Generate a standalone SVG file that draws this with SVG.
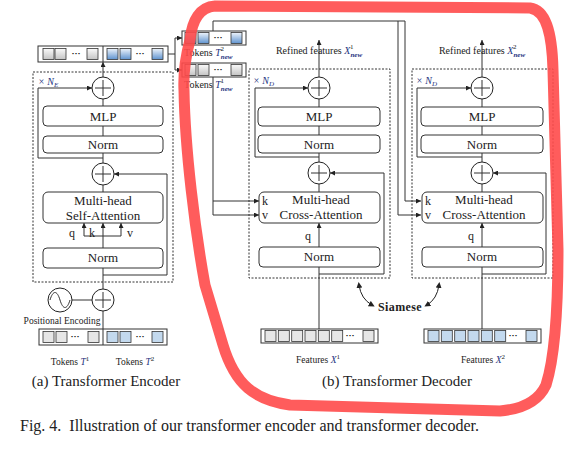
<svg xmlns="http://www.w3.org/2000/svg" width="566" height="449" viewBox="0 0 566 449">
<defs>
<marker id="ah" markerWidth="5" markerHeight="5" refX="5" refY="2.5" orient="auto" markerUnits="userSpaceOnUse"><path d="M0,0 L5,2.5 L0,5 z" fill="#222"/></marker>
<marker id="ahs" markerWidth="6" markerHeight="6" refX="3" refY="3" orient="auto-start-reverse" markerUnits="userSpaceOnUse"><path d="M0,0 L6,3 L0,6 z" fill="#222"/></marker>
<linearGradient id="gb" x1="0" y1="0" x2="0" y2="1"><stop offset="0" stop-color="#eef4fb"/><stop offset="1" stop-color="#5f93cf"/></linearGradient>
<linearGradient id="gg" x1="0" y1="0" x2="0" y2="1"><stop offset="0" stop-color="#fafafa"/><stop offset="1" stop-color="#c4c4c4"/></linearGradient>
<style>
text{font-family:"Liberation Serif","Times New Roman",serif;fill:#222}
.t13{font-size:13px;text-anchor:middle}
.sm{font-size:9.5px}
.m{font-style:italic;fill:#1d3380}
.dots{font-size:9px;text-anchor:middle;font-weight:bold}
.blk{fill:#fff;stroke:#333;stroke-width:1}
.dash{fill:none;stroke:#333;stroke-width:1;stroke-dasharray:2,1.5}
.ln{fill:none;stroke:#333;stroke-width:1}
.ar{fill:none;stroke:#333;stroke-width:1;marker-end:url(#ah)}
.bar{fill:#fff;stroke:#333;stroke-width:1}
.cg{fill:#e6e6e6;stroke:#333;stroke-width:0.8}
.cb{fill:#c3d9ee;stroke:#333;stroke-width:0.8}
.tg{fill:url(#gg);stroke:#333;stroke-width:0.8}
.tb{fill:url(#gb);stroke:#333;stroke-width:0.8}
.pc{fill:#fff;stroke:#222;stroke-width:1}
</style>
</defs>
<rect width="566" height="449" fill="#fff"/>

<g id="connectors">
<line class="ln" x1="103" y1="329" x2="103" y2="311"/>
<line class="ln" x1="72" y1="300" x2="92" y2="300"/>
<line class="ln" x1="103" y1="289" x2="103" y2="268"/>
<line class="ln" x1="103" y1="248" x2="103" y2="236"/>
<line class="ln" x1="84" y1="236" x2="121" y2="236"/>
<line class="ar" x1="84" y1="236" x2="84" y2="223"/>
<line class="ar" x1="103" y1="236" x2="103" y2="223"/>
<line class="ar" x1="121" y1="236" x2="121" y2="223"/>
<polyline class="ar" points="103,275 167,275 167,174 114,174"/>
<line class="ln" x1="103" y1="192" x2="103" y2="185"/>
<line class="ln" x1="103" y1="163" x2="103" y2="153"/>
<line class="ln" x1="103" y1="136" x2="103" y2="126"/>
<line class="ln" x1="103" y1="106" x2="103" y2="99"/>
<polyline class="ar" points="103,158 38,158 38,88 92,88"/>
<line class="ar" x1="103" y1="77" x2="103" y2="62"/>
<polyline class="ln" points="168,54 175,54"/>
<polyline class="ln" points="175,38 175,70"/>
<line class="ar" x1="175" y1="38" x2="182" y2="38"/>
<line class="ar" x1="175" y1="70" x2="182" y2="70"/>
<polyline class="ln" points="213,31 213,21 405,21"/>
<polyline class="ar" points="405,21 405,201 421,201"/>
<polyline class="ar" points="398,21 398,215 421,215"/>
<line class="ln" x1="213" y1="77" x2="213" y2="215"/>
<line class="ar" x1="213" y1="201" x2="259" y2="201"/>
<line class="ar" x1="213" y1="215" x2="259" y2="215"/>
<line class="ln" x1="319" y1="329" x2="319" y2="267"/>
<line class="ar" x1="319" y1="247" x2="319" y2="223"/>
<polyline class="ar" points="319,274 384,274 384,173 330,173"/>
<line class="ln" x1="319" y1="192" x2="319" y2="184"/>
<line class="ln" x1="319" y1="162" x2="319" y2="153"/>
<line class="ln" x1="319" y1="135" x2="319" y2="126"/>
<line class="ln" x1="319" y1="107" x2="319" y2="99"/>
<polyline class="ar" points="319,157 255,157 255,88 308,88"/>
<line class="ar" x1="319" y1="77" x2="319" y2="40"/>
<line class="ln" x1="482" y1="329" x2="482" y2="267"/>
<line class="ar" x1="482" y1="247" x2="482" y2="223"/>
<polyline class="ar" points="482,274 546,274 546,173 493,173"/>
<line class="ln" x1="482" y1="192" x2="482" y2="184"/>
<line class="ln" x1="482" y1="162" x2="482" y2="153"/>
<line class="ln" x1="482" y1="135" x2="482" y2="126"/>
<line class="ln" x1="482" y1="107" x2="482" y2="99"/>
<polyline class="ar" points="482,157 417,157 417,88 471,88"/>
<line class="ar" x1="482" y1="77" x2="482" y2="40"/>
<path d="M359,285 Q361,299 372,305" fill="none" stroke="#222" stroke-width="1" marker-start="url(#ahs)" marker-end="url(#ahs)"/>
<path d="M439,285 Q437,299 427,305" fill="none" stroke="#222" stroke-width="1" marker-start="url(#ahs)" marker-end="url(#ahs)"/>
</g>

<g id="encoder">
<rect class="dash" x="33" y="72" width="140" height="210"/>
<text x="38" y="85" style="font-size:10px" class="m">× N<tspan style="font-size:7px" dy="2">E</tspan></text>
<circle class="pc" cx="103" cy="88" r="11"/>
<path class="ln" d="M95,88 H111 M103,80 V96"/>
<rect class="blk" x="43" y="106" width="120" height="20" rx="4"/>
<text class="t13" x="103" y="121">MLP</text>
<rect class="blk" x="43" y="136" width="120" height="17" rx="4"/>
<text class="t13" x="103" y="149">Norm</text>
<circle class="pc" cx="103" cy="174" r="11"/>
<path class="ln" d="M95,174 H111 M103,166 V182"/>
<rect class="blk" x="43" y="192" width="120" height="31" rx="5"/>
<text class="t13" x="103" y="205">Multi-head</text>
<text class="t13" x="103" y="220">Self-Attention</text>
<text x="72" y="237" style="font-size:12px;text-anchor:middle">q</text>
<text x="92" y="237" style="font-size:12px;text-anchor:middle">k</text>
<text x="130" y="237" style="font-size:12px;text-anchor:middle">v</text>
<rect class="blk" x="43" y="248" width="120" height="20" rx="4"/>
<text class="t13" x="103" y="262">Norm</text>
</g>

<g id="pos-encoding">
<circle class="pc" cx="60" cy="300" r="12"/>
<path class="ln" d="M50,300 C53,290 57,290 60,300 C63,310 67,310 70,300"/>
<circle class="pc" cx="103" cy="300" r="11"/>
<path class="ln" d="M95,300 H111 M103,292 V308"/>
<text x="62" y="324" style="font-size:9.5px;text-anchor:middle">Positional Encoding</text>
</g>

<g id="tokens-in">
<rect class="bar" x="39" y="329" width="128" height="16"/>
<line class="ln" x1="103" y1="329" x2="103" y2="345"/>
<rect class="cg" x="43" y="331.5" width="11" height="11"/>
<rect class="cg" x="56" y="331.5" width="11" height="11"/>
<text x="75" y="339" class="dots">···</text>
<rect class="cg" x="88" y="331.5" width="11" height="11"/>
<rect class="cb" x="107" y="331.5" width="11" height="11"/>
<rect class="cb" x="120" y="331.5" width="11" height="11"/>
<text x="140" y="339" class="dots">···</text>
<rect class="cb" x="152" y="331.5" width="11" height="11"/>
<text x="70" y="365" class="sm" style="text-anchor:middle">Tokens <tspan class="m">T</tspan><tspan style="font-size:7px" dy="-4">1</tspan></text>
<text x="135" y="365" class="sm" style="text-anchor:middle">Tokens <tspan class="m">T</tspan><tspan style="font-size:7px" dy="-4">2</tspan></text>
</g>

<g id="tokens-out">
<rect class="bar" x="38" y="46" width="130" height="16"/>
<line class="ln" x1="103" y1="46" x2="103" y2="62"/>
<rect class="tg" x="43" y="48.5" width="11" height="11"/>
<rect class="tg" x="55" y="48.5" width="11" height="11"/>
<text x="76" y="56" class="dots">···</text>
<rect class="tg" x="87" y="48.5" width="11" height="11"/>
<rect class="tb" x="107" y="48.5" width="11" height="11"/>
<rect class="tb" x="120" y="48.5" width="11" height="11"/>
<text x="140" y="56" class="dots">···</text>
<rect class="tb" x="152" y="48.5" width="11" height="11"/>
</g>

<g id="tokens-t2new">
<rect class="bar" x="182" y="31" width="64" height="14"/>
<rect class="tb" x="185" y="32.5" width="11" height="11"/>
<rect class="tb" x="198" y="32.5" width="11" height="11"/>
<text x="218" y="40" class="dots">···</text>
<rect class="tb" x="231" y="32.5" width="11" height="11"/>
<text x="184" y="56" style="font-size:10px">Tokens <tspan class="m">T</tspan><tspan class="m" style="font-size:7px;font-weight:bold" dy="3">new</tspan><tspan style="font-size:7px" dx="-12" dy="-8">2</tspan></text>
</g>

<g id="tokens-t1new">
<rect class="bar" x="182" y="63" width="64" height="14"/>
<rect class="tg" x="185" y="64.5" width="11" height="11"/>
<rect class="tg" x="198" y="64.5" width="11" height="11"/>
<text x="218" y="72" class="dots">···</text>
<rect class="tg" x="231" y="64.5" width="11" height="11"/>
<text x="184" y="88" style="font-size:10px">Tokens <tspan class="m">T</tspan><tspan class="m" style="font-size:7px;font-weight:bold" dy="3">new</tspan><tspan style="font-size:7px" dx="-12" dy="-8">1</tspan></text>
</g>

<g id="decoder1">
<text x="319" y="54" style="font-size:10px;text-anchor:middle">Refined features <tspan class="m">X</tspan><tspan class="m" style="font-size:7px;font-weight:bold" dy="3">new</tspan><tspan style="font-size:7px" dx="-12" dy="-8">1</tspan></text>
<rect class="dash" x="249" y="69" width="141" height="209"/>
<text x="253" y="84" style="font-size:10px" class="m">× N<tspan style="font-size:7px" dy="2">D</tspan></text>
<circle class="pc" cx="319" cy="88" r="11"/>
<path class="ln" d="M311,88 H327 M319,80 V96"/>
<rect class="blk" x="258" y="107" width="122" height="19" rx="4"/>
<text class="t13" x="319" y="121">MLP</text>
<rect class="blk" x="258" y="135" width="122" height="18" rx="4"/>
<text class="t13" x="319" y="149">Norm</text>
<circle class="pc" cx="319" cy="173" r="11"/>
<path class="ln" d="M311,173 H327 M319,165 V181"/>
<rect class="blk" x="259" y="192" width="121" height="31" rx="5"/>
<text x="262" y="205" style="font-size:12px">k</text>
<text x="262" y="219" style="font-size:12px">v</text>
<text class="t13" x="321" y="204">Multi-head</text>
<text class="t13" x="321" y="219">Cross-Attention</text>
<text x="308" y="240" style="font-size:12px;text-anchor:middle">q</text>
<rect class="blk" x="259" y="247" width="121" height="20" rx="4"/>
<text class="t13" x="319" y="261">Norm</text>
<rect class="bar" x="261" y="329" width="117" height="14"/>
<rect class="cg" x="265" y="330.5" width="11" height="11"/>
<rect class="cg" x="278.3" y="330.5" width="11" height="11"/>
<rect class="cg" x="291.7" y="330.5" width="11" height="11"/>
<rect class="cg" x="305" y="330.5" width="11" height="11"/>
<rect class="cg" x="318.3" y="330.5" width="11" height="11"/>
<rect class="cg" x="331.7" y="330.5" width="11" height="11"/>
<text x="350" y="338" class="dots">···</text>
<rect class="cg" x="363" y="330.5" width="11" height="11"/>
<text x="318" y="363" class="sm" style="text-anchor:middle">Features <tspan class="m">X</tspan><tspan style="font-size:7px" dy="-4">1</tspan></text>
</g>

<g id="decoder2">
<text x="482" y="54" style="font-size:10px;text-anchor:middle">Refined features <tspan class="m">X</tspan><tspan class="m" style="font-size:7px;font-weight:bold" dy="3">new</tspan><tspan style="font-size:7px" dx="-12" dy="-8">2</tspan></text>
<rect class="dash" x="412" y="69" width="141" height="209"/>
<text x="416" y="84" style="font-size:10px" class="m">× N<tspan style="font-size:7px" dy="2">D</tspan></text>
<circle class="pc" cx="482" cy="88" r="11"/>
<path class="ln" d="M474,88 H490 M482,80 V96"/>
<rect class="blk" x="421" y="107" width="122" height="19" rx="4"/>
<text class="t13" x="482" y="121">MLP</text>
<rect class="blk" x="421" y="135" width="122" height="18" rx="4"/>
<text class="t13" x="482" y="149">Norm</text>
<circle class="pc" cx="482" cy="173" r="11"/>
<path class="ln" d="M474,173 H490 M482,165 V181"/>
<rect class="blk" x="422" y="192" width="121" height="31" rx="5"/>
<text x="425" y="205" style="font-size:12px">k</text>
<text x="425" y="219" style="font-size:12px">v</text>
<text class="t13" x="484" y="204">Multi-head</text>
<text class="t13" x="484" y="219">Cross-Attention</text>
<text x="471" y="240" style="font-size:12px;text-anchor:middle">q</text>
<rect class="blk" x="422" y="247" width="121" height="20" rx="4"/>
<text class="t13" x="482" y="261">Norm</text>
<rect class="bar" x="424" y="329" width="117" height="14"/>
<rect class="cb" x="428" y="330.5" width="11" height="11"/>
<rect class="cb" x="441.3" y="330.5" width="11" height="11"/>
<rect class="cb" x="454.7" y="330.5" width="11" height="11"/>
<rect class="cb" x="468" y="330.5" width="11" height="11"/>
<rect class="cb" x="481.3" y="330.5" width="11" height="11"/>
<rect class="cb" x="494.7" y="330.5" width="11" height="11"/>
<text x="513" y="338" class="dots">···</text>
<rect class="cb" x="526" y="330.5" width="11" height="11"/>
<text x="483" y="363" class="sm" style="text-anchor:middle">Features <tspan class="m">X</tspan><tspan style="font-size:7px" dy="-4">2</tspan></text>
</g>

<g id="siamese">
<text x="400" y="311" style="font-size:12px;font-weight:bold;text-anchor:middle;letter-spacing:0.4px">Siamese</text>
</g>

<g id="captions">
<text x="106" y="386" style="font-size:15px;text-anchor:middle">(a) Transformer Encoder</text>
<text x="397" y="386" style="font-size:15px;text-anchor:middle">(b) Transformer Decoder</text>
<text x="20" y="431" style="font-size:16px" xml:space="preserve">Fig. 4.  Illustration of our transformer encoder and transformer decoder.</text>
</g>

<g id="red-outline">
<path d="M190,40 C192,20 200,7 215,6 L530,8 C545,10 552,30 553,70 L558,250 C558,320 554,360 546,385 C539,400 525,409 500,411 L290,405 C255,400 235,385 223,345 L205,285 C195,230 185,150 184,90 C183,70 186,55 190,40 Z" fill="none" stroke="#ff4a4a" stroke-width="11" stroke-opacity="0.9" stroke-linejoin="round"/>
</g>
</svg>
